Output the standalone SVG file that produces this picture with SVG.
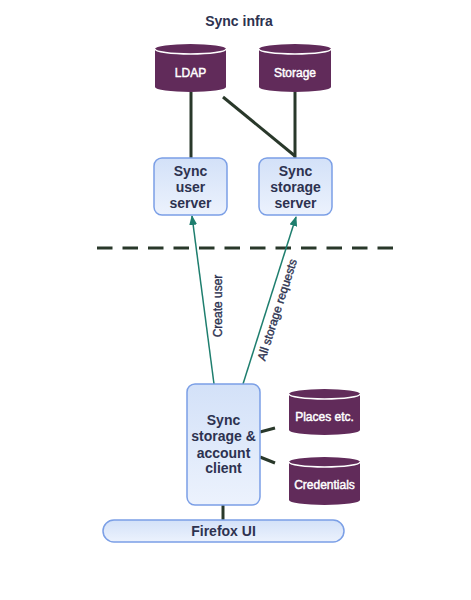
<svg xmlns="http://www.w3.org/2000/svg" width="471" height="600" viewBox="0 0 471 600">
<defs>
<linearGradient id="boxg" x1="0" y1="0" x2="0" y2="1">
<stop offset="0" stop-color="#d3e1f8"/>
<stop offset="1" stop-color="#ecf2fd"/>
</linearGradient>
<marker id="ah" markerWidth="10" markerHeight="8" refX="9" refY="4" orient="auto" markerUnits="userSpaceOnUse">
<path d="M0,0 L10,4 L0,8 Z" fill="#1e7e6e"/>
</marker>
<style>
.title{font-family:"Liberation Sans",Arial,sans-serif;font-weight:bold;font-size:14px;fill:#2d3250;text-anchor:middle}
.box{fill:url(#boxg);stroke:#7b9fe6;stroke-width:1.5}
.bt{font-family:"Liberation Sans",Arial,sans-serif;font-weight:bold;font-size:14px;fill:#2d3250;text-anchor:middle}
.cyl{fill:#612b5a}
.cyltop{fill:none;stroke:#ffffff;stroke-width:1.5}
.ct{font-family:"Liberation Sans",Arial,sans-serif;font-size:12px;fill:#ffffff;stroke:#ffffff;stroke-width:0.45;text-anchor:middle}
.link{stroke:#29382a;stroke-width:3;fill:none}
.arrow{stroke:#1e7e6e;stroke-width:1.5;fill:none;marker-end:url(#ah)}
.al{font-family:"Liberation Sans",Arial,sans-serif;font-size:12px;fill:#2d3250;stroke:#2d3250;stroke-width:0.35;text-anchor:middle}
</style>
</defs>
<text class="title" x="239" y="26">Sync infra</text>
<g id="connectors">
<line class="link" x1="191" y1="92" x2="191" y2="158"/>
<line class="link" x1="295" y1="92" x2="295" y2="158"/>
<line class="link" x1="223" y1="97" x2="295" y2="156"/>
<line x1="97" y1="248" x2="393" y2="248" stroke="#29382a" stroke-width="3" stroke-dasharray="15.5 10"/>
<line class="arrow" x1="214" y1="384" x2="192" y2="216"/>
<line class="arrow" x1="243" y1="384" x2="296" y2="217"/>
<line class="link" x1="260" y1="432" x2="275" y2="428"/>
<line class="link" x1="260" y1="457" x2="275" y2="463"/>
<line class="link" x1="223" y1="505" x2="223" y2="520"/>
<text class="al" transform="translate(222,306) rotate(-90)">Create user</text>
<text class="al" transform="translate(281,311) rotate(-72.3)">All storage requests</text>
</g>
<g id="ldap">
<path class="cyl" d="M155,49 a35.5,5 0 0 1 71,0 V87 a35.5,5 0 0 1 -71,0 Z"/>
<path class="cyltop" d="M155,49 a35.5,5 0 0 0 71,0"/>
<text class="ct" x="190.5" y="77">LDAP</text>
</g>
<g id="storage">
<path class="cyl" d="M259,49 a36,5 0 0 1 72,0 V87 a36,5 0 0 1 -72,0 Z"/>
<path class="cyltop" d="M259,49 a36,5 0 0 0 72,0"/>
<text class="ct" x="295" y="77">Storage</text>
</g>
<g id="sync-user-server">
<rect class="box" x="154" y="158" width="73" height="57" rx="8"/>
<text class="bt" x="190.5" y="176">Sync</text>
<text class="bt" x="190.5" y="192">user</text>
<text class="bt" x="190.5" y="208">server</text>
</g>
<g id="sync-storage-server">
<rect class="box" x="259" y="158" width="73" height="57" rx="8"/>
<text class="bt" x="295.5" y="176">Sync</text>
<text class="bt" x="295.5" y="192">storage</text>
<text class="bt" x="295.5" y="208">server</text>
</g>
<g id="client">
<rect class="box" x="187" y="384" width="73" height="121" rx="8"/>
<text class="bt" x="223.5" y="425">Sync</text>
<text class="bt" x="223.5" y="441">storage &amp;</text>
<text class="bt" x="223.5" y="458">account</text>
<text class="bt" x="223.5" y="473">client</text>
</g>
<g id="places">
<path class="cyl" d="M289,394 a35.5,5 0 0 1 71,0 V430 a35.5,5 0 0 1 -71,0 Z"/>
<path class="cyltop" d="M289,394 a35.5,5 0 0 0 71,0"/>
<text class="ct" x="324.5" y="421">Places etc.</text>
</g>
<g id="credentials">
<path class="cyl" d="M289,462 a35.5,5 0 0 1 71,0 V500 a35.5,5 0 0 1 -71,0 Z"/>
<path class="cyltop" d="M289,462 a35.5,5 0 0 0 71,0"/>
<text class="ct" x="324.5" y="489">Credentials</text>
</g>
<g id="firefox-ui">
<rect class="box" x="103" y="520" width="241" height="22" rx="11"/>
<text class="bt" x="223.5" y="536">Firefox UI</text>
</g>
</svg>
